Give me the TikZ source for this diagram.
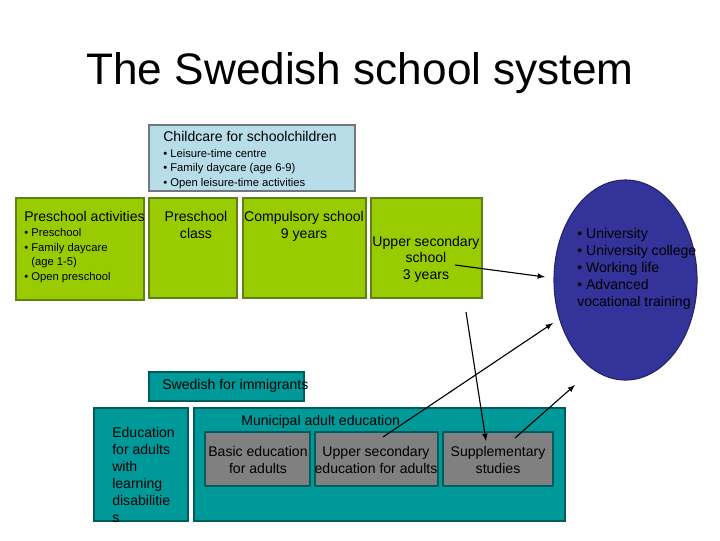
\documentclass[tikz,border=0pt]{standalone}
\usepackage{fontspec}
\setmainfont{Liberation Sans}
\usetikzlibrary{fit,shapes.geometric}

\definecolor{schoolgreen}{RGB}{153,204,0}
\definecolor{greenedge}{RGB}{96,128,24}
\definecolor{childblue}{RGB}{183,221,232}
\definecolor{childedge}{RGB}{110,120,125}
\definecolor{adultteal}{RGB}{0,153,153}
\definecolor{tealedge}{RGB}{0,92,92}
\definecolor{adultgrey}{RGB}{128,128,128}
\definecolor{ovalblue}{RGB}{51,51,153}

\newcommand{\bodysize}{\fontsize{10}{12}\selectfont}
\newcommand{\bulletsize}{\fontsize{8}{10.2}\selectfont}

\tikzset{
    box/.style={inner sep=0pt, line width=0.8pt},
    greenbox/.style={box, fill=schoolgreen, draw=greenedge},
    bluebox/.style={box, fill=childblue, draw=childedge},
    tealbox/.style={box, fill=adultteal, draw=tealedge},
    greybox/.style={box, fill=adultgrey, draw=tealedge},
    label/.style={inner sep=0pt, font=\bodysize, align=left, anchor=base west},
    midlabel/.style={inner sep=0pt, font=\bodysize, align=center, anchor=base},
    bullets/.style={inner sep=0pt, font=\bulletsize, align=left, anchor=base west},
}

\begin{document}
\begin{tikzpicture}[x=0.025cm,y=-0.025cm]
    \useasboundingbox (0,0) rectangle (720,540);
    \fill[white] (0,0) rectangle (720,540);
    \coordinate (S0) at (455,265);
    \coordinate (S1) at (545,277);
    \coordinate (T0) at (466,312);
    \coordinate (T1) at (486,441);
    \coordinate (V0) at (383,437);
    \coordinate (V1) at (553,323);
    \coordinate (W0) at (515,438);
    \coordinate (W1) at (575,385);
      \node [font=\fontsize{31.4}{38}\selectfont, anchor=base] (title) at (360,84) {The Swedish school system};
      \node [bluebox, fit={(149,125) (355,191)}] (child) {};
      \node [label] (childhead) at (163,141) {Childcare for schoolchildren};
      \node [bullets] (childlist) at (163,186) {• Leisure-time centre\\ • Family daycare (age 6-9)\\ • Open leisure-time activities};
      \node [greenbox, fit={(16,198) (144,300)}] (pre) {};
      \node [greenbox, fit={(149,198) (237,298)}] (preclass) {};
      \node [greenbox, fit={(243,198) (366,298)}] (comp) {};
      \node [greenbox, fit={(371,198) (482,298)}] (upsec) {};
      \node [label] (prehead) at (24,221) {Preschool activities};
      \node [bullets] (prelist) at (24,280) {• Preschool\\ • Family daycare\\ \hphantom{•} (age 1-5)\\ • Open preschool};
      \node [midlabel] (preclasstext) at (196,238) {Preschool\\ class};
      \node [midlabel] (comptext) at (304,238) {Compulsory school\\ 9 years};
      \node [midlabel, font=\fontsize{10}{11.7}\selectfont] (upsectext) at (426,279) {Upper secondary\\ school\\ 3 years};
      \node [ellipse, fill=ovalblue, draw=ovalblue!70!black, line width=0.8pt, minimum width=143*0.025cm, minimum height=200*0.025cm, inner sep=0pt] (further) at (625.5,280) {};
      \node [label] (furthertext) at (577,306) {• University\\ • University college\\ • Working life\\ • Advanced\\ vocational training};
      \node [tealbox, fit={(149,372) (304,401)}] (sfi) {};
      \node [label] (sfitext) at (162,389) {Swedish for immigrants};
      \node [tealbox, fit={(94,408) (188,521)}] (special) {};
      \node [label] (specialtext) at (112,522) {Education\\ for adults\\ with\\ learning\\ disabilitie\\ s};
      \node [tealbox, fit={(194,408) (565,521)}] (komvux) {};
      \node [label] (komvuxtext) at (241,425) {Municipal adult education};
      \node [greybox, fit={(205,432) (310,486)}] (basic) {};
      \node [greybox, fit={(315,432) (438,486)}] (upadult) {};
      \node [greybox, fit={(443,432) (553,486)}] (supp) {};
      \node [midlabel] (basictext) at (258,473) {Basic education\\ for adults};
      \node [midlabel] (upadulttext) at (376,473) {Upper secondary\\ education for adults};
      \node [midlabel] (supptext) at (498,473) {Supplementary\\ studies};
      \draw [thick,-latex] (S0)
        -- (S1);
      \draw [thick,-latex] (T0)
        -- (T1);
      \draw [thick,-latex] (V0)
        -- (V1);
      \draw [thick,-latex] (W0)
        -- (W1);
  \end{tikzpicture}
\end{document}
